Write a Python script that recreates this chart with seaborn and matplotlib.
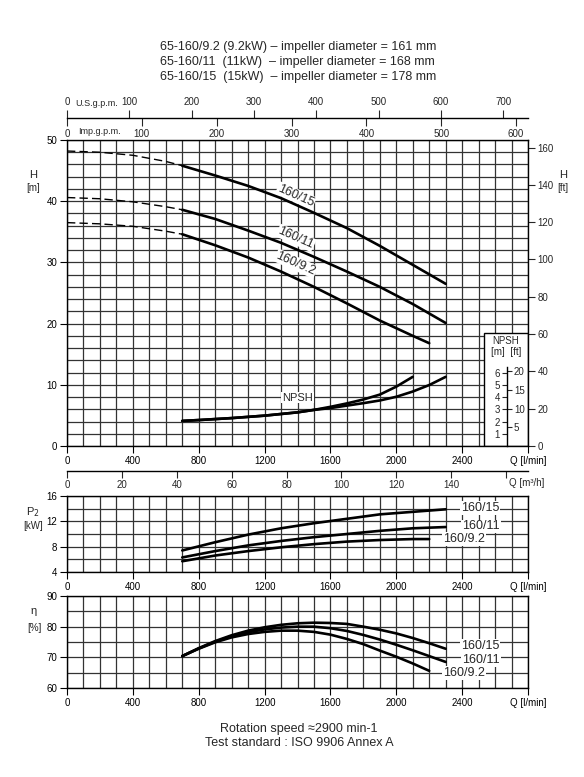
import numpy as np
import pandas as pd
import matplotlib
matplotlib.use("Agg")
import matplotlib.pyplot as plt
from matplotlib.patches import Rectangle
from matplotlib import font_manager
import seaborn as sns

# ---- values ----
# head curves, dashed part near shut-off  (Q in l/min, H in m)
q_shutoff = [0, 200, 400, 600, 700]
h_shutoff_15 = [48.2, 48.0, 47.5, 46.5, 45.8]
h_shutoff_11 = [40.6, 40.4, 39.9, 39.1, 38.6]
h_shutoff_92 = [36.5, 36.3, 35.9, 35.1, 34.6]

# head curves, working range
q_15 = [700, 900, 1100, 1300, 1500, 1700, 1900, 2100, 2300]
q_11 = [700, 900, 1100, 1300, 1500, 1700, 1900, 2100, 2300]
q_92 = [700, 900, 1100, 1300, 1500, 1700, 1900, 2100, 2200]
h_15 = [45.8, 44.2, 42.5, 40.5, 38.1, 35.6, 32.7, 29.6, 26.5]
h_11 = [38.6, 37.1, 35.2, 33.2, 30.9, 28.5, 26.0, 23.2, 20.1]
h_92 = [34.6, 32.8, 30.8, 28.5, 26.0, 23.3, 20.5, 18.0, 16.8]

# NPSH in m (drawn on the H grid at twice the scale, see inset)
q_npsh_a = [700, 800, 1000, 1200, 1400, 1500, 1600, 1700, 1800, 1900, 2000, 2100]
npsh_a = [2.05, 2.12, 2.28, 2.48, 2.75, 2.95, 3.2, 3.48, 3.8, 4.2, 4.85, 5.65]
q_npsh_b = [700, 800, 1000, 1200, 1400, 1500, 1600, 1700, 1800, 1900, 2000, 2100, 2200, 2300]
npsh_b = [2.05, 2.12, 2.28, 2.48, 2.75, 2.95, 3.1, 3.3, 3.5, 3.72, 4.02, 4.45, 4.98, 5.65]

# power P2 (kW)
q_p = [700, 900, 1100, 1300, 1500, 1700, 1900, 2100, 2300]
q_p92 = [700, 900, 1100, 1300, 1500, 1700, 1900, 2100, 2200]
p_15 = [7.4, 8.7, 9.9, 10.9, 11.7, 12.4, 13.1, 13.5, 13.9]
p_11 = [6.3, 7.3, 8.2, 8.9, 9.5, 10.0, 10.5, 10.9, 11.1]
p_92 = [5.7, 6.6, 7.3, 7.9, 8.4, 8.8, 9.05, 9.2, 9.2]

# efficiency (%)
q_eta = [700, 800, 900, 1000, 1100, 1200, 1300, 1400, 1500, 1600, 1700, 1800,
         1900, 2000, 2100, 2200, 2300]
q_eta92 = q_eta[:-1]
eta_15 = [70.4, 73.0, 75.3, 77.2, 78.7, 79.8, 80.6, 81.1, 81.3, 81.2, 80.9, 80.0,
          79.0, 77.8, 76.3, 74.6, 72.8]
eta_11 = [70.4, 72.9, 75.1, 76.9, 78.2, 79.1, 79.7, 80.0, 80.0, 79.5, 78.6, 77.3,
          75.8, 74.1, 72.3, 70.4, 68.5]
eta_92 = [70.4, 72.8, 74.9, 76.5, 77.6, 78.3, 78.7, 78.7, 78.3, 77.4, 76.0, 74.3,
          72.2, 70.2, 68.0, 65.6]

title_lines = ["65-160/9.2 (9.2kW) \u2013 impeller diameter = 161 mm",
               "65-160/11  (11kW)  \u2013 impeller diameter = 168 mm",
               "65-160/15  (15kW)  \u2013 impeller diameter = 178 mm"]
footer_lines = ["Rotation speed \u22482900 min-1", "Test standard : ISO 9906 Annex A"]

# ---- style ----
sns.set_theme(context="paper", style="ticks")
names = {f.name for f in font_manager.fontManager.ttflist}
narrow = "Liberation Sans Narrow" if "Liberation Sans Narrow" in names else "Liberation Sans"
plt.rcParams["font.family"] = [narrow, "DejaVu Sans"]
ARIAL = ["Liberation Sans", "DejaVu Sans"]

W, H = 584, 777
fig = plt.figure(figsize=(W / 100, H / 100), dpi=100)
fig.patch.set_facecolor("white")


def rect(l, t, r, b):
    return [l / W, 1 - b / H, (r - l) / W, (b - t) / H]


def ftext(x, y, s, **kw):
    fig.text(x / W, 1 - y / H, s, **kw)


L, R = 67, 528
ax_h = fig.add_axes(rect(L, 140, R, 446))
ax_p = fig.add_axes(rect(L, 496, R, 572))
ax_e = fig.add_axes(rect(L, 596, R, 688))

GRID = "#333333"


def style(ax, ylim, ymajor, yminor):
    ax.set_xlim(0, 2800)
    ax.set_ylim(*ylim)
    ax.set_xticks(np.arange(0, 2801, 400))
    ax.set_xticklabels([str(v) for v in range(0, 2401, 400)] + ["Q [l/min]"])
    ax.set_xticks(np.arange(0, 2801, 100), minor=True)
    ax.set_yticks(ymajor)
    ax.set_yticklabels([str(v) for v in ymajor])
    ax.set_yticks(yminor, minor=True)
    ax.grid(which="both", color=GRID, lw=0.9)
    ax.set_axisbelow(True)
    ax.tick_params(which="major", direction="out", length=5, width=0.8,
                   labelsize=7, pad=2, colors="black", bottom=True, left=True)
    ax.tick_params(which="minor", length=0)
    for s in ax.spines.values():
        s.set_visible(True)
        s.set_color("black")
        s.set_linewidth(1.0)
    ax.set_xlabel("")
    ax.set_ylabel("")


def curve(ax, q, v, lw=1.9, ls="-"):
    sns.lineplot(x=q, y=v, ax=ax, color="black", lw=lw, linestyle=ls,
                 estimator=None, sort=False, zorder=4)


# ---- head panel ----
dash = (0, (6, 3))
for hs in (h_shutoff_15, h_shutoff_11, h_shutoff_92):
    curve(ax_h, q_shutoff, hs, lw=1.0, ls=dash)
for q, h in ((q_15, h_15), (q_11, h_11), (q_92, h_92)):
    curve(ax_h, q, h)
curve(ax_h, q_npsh_a, [2 * v for v in npsh_a])
curve(ax_h, q_npsh_b, [2 * v for v in npsh_b])
style(ax_h, (0, 50), list(range(0, 51, 10)), np.arange(0, 51, 2))

lab = dict(ha="center", va="center", fontsize=9, rotation=-24,
           rotation_mode="anchor", zorder=3,
           bbox=dict(fc="white", ec="none", pad=0.6))
ax_h.text(1390, 40.9, "160/15", **lab)
ax_h.text(1390, 34.0, "160/11", **lab)
ax_h.text(1390, 29.8, "160/9.2", **lab)
ax_h.text(1400, 7.9, "NPSH", ha="center", va="center", fontsize=8, zorder=3,
          bbox=dict(fc="white", ec="none", pad=0.6))

# NPSH scale box
ax_h.add_patch(Rectangle((2533, 0), 267, 18.5, fc="white", ec="black", lw=1.0, zorder=2))
ax_h.text(2665, 17.2, "NPSH", ha="center", va="center", fontsize=7, zorder=5)
ax_h.text(2665, 15.4, "[m]  [ft]", ha="center", va="center", fontsize=7, zorder=5)

ax_np = fig.add_axes(rect(507, 140, 507.01, 446))
ax_np.patch.set_visible(False)
ax_np.set_ylim(0, 25)
for k in ("top", "bottom", "right"):
    ax_np.spines[k].set_visible(False)
ax_np.spines["left"].set_bounds(0, 6.45)
ax_np.spines["left"].set_linewidth(1.0)
ax_np.spines["left"].set_color("black")
ax_np.set_xticks([])
ax_np.set_yticks([1, 2, 3, 4, 5, 6])
ax_np.tick_params(axis="y", direction="out", length=3.5, width=0.8, labelsize=7,
                  pad=1.5, left=True)
np_ft = ax_np.secondary_yaxis("right", functions=(lambda m: m * 3.28084, lambda f: f / 3.28084))
np_ft.set_yticks([5, 10, 15, 20])
np_ft.spines["right"].set_visible(False)
np_ft.tick_params(direction="out", length=3.5, width=0.8, labelsize=7, pad=1.5)

# feet scale on the right
ft = ax_h.secondary_yaxis("right", functions=(lambda m: m * 3.28084, lambda f: f / 3.28084))
ft.set_yticks(list(range(0, 161, 20)))
ft.tick_params(direction="out", length=5, width=0.8, labelsize=7, pad=2)
ft.spines["right"].set_visible(False)

# U.S. / Imp. gallon scale above
ax_top = fig.add_axes(rect(L, 118, R, 118.01))
ax_top.patch.set_visible(False)
for k in ("top", "left", "right"):
    ax_top.spines[k].set_visible(False)
ax_top.spines["bottom"].set_linewidth(1.0)
ax_top.spines["bottom"].set_color("black")
ax_top.set_xlim(0, 2800)
ax_top.set_yticks([])
imp = list(range(0, 601, 100))
ax_top.set_xticks([g * 4.54609 for g in imp])
ax_top.set_xticklabels([str(g) for g in imp])
ax_top.tick_params(axis="x", direction="out", length=6, width=0.8, labelsize=7, pad=2,
                   bottom=True)
us = ax_top.secondary_xaxis("top", functions=(lambda q: q / 3.78541, lambda g: g * 3.78541))
us.set_xticks(list(range(0, 701, 100)))
us.spines["top"].set_visible(False)
us.tick_params(direction="out", length=6, width=0.8, labelsize=7, pad=2)
ftext(97, 104, "U.S.g.p.m.", ha="center", va="center", fontsize=6.5)
ftext(99, 131, "Imp.g.p.m.", ha="center", va="center", fontsize=6.5)

# m3/h scale below
ax_m3 = fig.add_axes(rect(L, 470.7, R, 470.71))
ax_m3.patch.set_visible(False)
for k in ("top", "left", "right"):
    ax_m3.spines[k].set_visible(False)
ax_m3.spines["bottom"].set_linewidth(1.0)
ax_m3.spines["bottom"].set_color("black")
ax_m3.set_xlim(0, 168)
ax_m3.set_yticks([])
ax_m3.set_xticks(list(range(0, 161, 20)))
ax_m3.set_xticklabels([str(v) for v in range(0, 141, 20)] + [""])
ax_m3.tick_params(axis="x", direction="out", length=5, width=0.8, labelsize=7, pad=2,
                  bottom=True)
ftext(527, 483, "Q [m\u00b3/h]", ha="center", va="center", fontsize=7)

# ---- power panel ----
for q, p in ((q_p, p_15), (q_p, p_11), (q_p92, p_92)):
    curve(ax_p, q, p)
style(ax_p, (4, 16), [4, 8, 12, 16], np.arange(4, 17, 2))
side = dict(ha="center", va="center", fontsize=9, zorder=3,
            bbox=dict(fc="white", ec="none", pad=0.6))
ax_p.text(2510, 14.1, "160/15", **side)
ax_p.text(2515, 11.2, "160/11", **side)
ax_p.text(2410, 9.2, "160/9.2", **side)

# ---- efficiency panel ----
for q, e in ((q_eta, eta_15), (q_eta, eta_11), (q_eta92, eta_92)):
    curve(ax_e, q, e)
style(ax_e, (60, 90), [60, 70, 80, 90], np.arange(60, 91, 5))
ax_e.text(2510, 73.8, "160/15", **side)
ax_e.text(2515, 69.2, "160/11", **side)
ax_e.text(2410, 65.0, "160/9.2", **side)

# axis captions
ftext(33, 175, "H", ha="center", va="center", fontsize=8)
ftext(33, 188, "[m]", ha="center", va="center", fontsize=7)
ftext(563, 175, "H", ha="center", va="center", fontsize=8)
ftext(563, 188, "[ft]", ha="center", va="center", fontsize=7)
ftext(33, 512, "P$_2$", ha="center", va="center", fontsize=8)
ftext(33, 526, "[kW]", ha="center", va="center", fontsize=7)
ftext(34, 611, "\u03b7", ha="center", va="center", fontsize=8)
ftext(34, 628, "[%]", ha="center", va="center", fontsize=7)

# header and footer
for i, s in enumerate(title_lines):
    ftext(160, 47 + 14.8 * i, s, ha="left", va="center", fontsize=9, family=ARIAL)
for i, s in enumerate(footer_lines):
    ftext(299, 729 + 14.5 * i, s, ha="center", va="center", fontsize=9, family=ARIAL)

fig.savefig("out.png", dpi=100, facecolor="white")
